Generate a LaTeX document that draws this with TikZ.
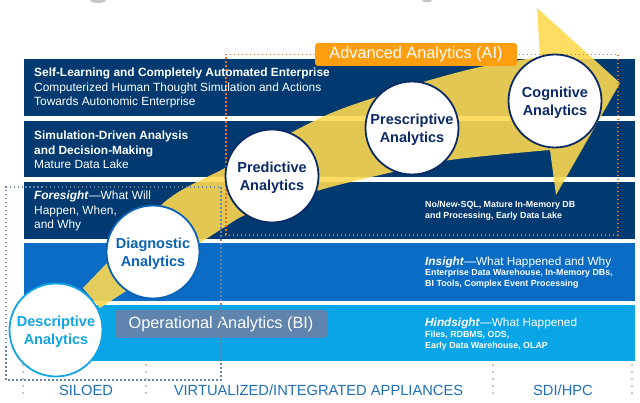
\documentclass[tikz,border=0pt]{standalone}
\usepackage{fontspec}
\usepackage{xcolor}
\setmainfont{Liberation Sans}
\usetikzlibrary{positioning}
\definecolor{navyband}{HTML}{003A70}
\definecolor{midband}{HTML}{0A6CC4}
\definecolor{skyband}{HTML}{0AA5E6}
\definecolor{arrowgold}{HTML}{FFD950}
\definecolor{orangetag}{HTML}{FF9E0F}
\definecolor{slatetag}{HTML}{5F84AE}
\definecolor{navyring}{HTML}{0B2A66}
\definecolor{midring}{HTML}{0B62B4}
\definecolor{skyring}{HTML}{12A5E4}
\definecolor{dotorange}{HTML}{E8701C}
\definecolor{dotslate}{HTML}{6A84A6}
\definecolor{dotgrey}{HTML}{B4B4B4}
\definecolor{footblue}{HTML}{1F70B8}

\begin{document}
\begin{tikzpicture}[
    x=1pt, y=-1pt,
    band/.style={anchor=north west, minimum width=611.5pt, inner sep=0pt, outer sep=0pt},
    stage/.style={circle, fill=white, line width=1.8pt, minimum size=93pt, inner sep=0pt, align=center, text depth=-1pt, font=\fontsize{14.5}{18.3}\selectfont\bfseries},
    tag/.style={rounded corners=3pt, text=white, inner sep=0pt, font=\fontsize{16.3}{18}\selectfont},
    bandtext/.style={anchor=west, align=left, text=white, inner sep=0pt, font=\fontsize{11.9}{14.4}\selectfont},
    smalltext/.style={anchor=west, align=left, text=white, inner sep=0pt, font=\fontsize{8.85}{11}\selectfont\bfseries},
    foot/.style={text=footblue, inner sep=0pt, font=\fontsize{14.7}{16}\selectfont},
    dotline/.style={line width=1.5pt, dash pattern=on 1.5pt off 2.5pt},
    greydots/.style={draw=dotgrey, line cap=round, line width=2.4pt, dash pattern=on 0pt off 7pt}
]
\useasboundingbox (0,0) rectangle (640,403);

% Smudges
\fill[black!22] (98,0) ellipse (8 and 3);
\fill[black!22] (427,0) ellipse (5 and 2.5);

% Bands
\node[band, fill=navyband, minimum height=57pt] (selflearn) at (23.5,59) {};
\node[band, fill=navyband, minimum height=56pt] (simulation) at (23.5,121) {};
\node[band, fill=navyband, minimum height=57pt] (foresight) at (23.5,182) {};
\node[band, fill=midband, minimum height=58pt] (insight) at (23.5,243) {};
\node[band, fill=skyband, minimum height=56pt] (hindsight) at (23.5,305) {};

% Arrow
\fill[arrowgold, opacity=0.89]
    plot[smooth] coordinates {(83,288) (107,263) (167,200) (227,167) (320,118) (373,98) (423,82) (480,67) (540,57)}
    -- (537,8) -- (620,83) -- (556,195) -- (550,150)
    -- plot[smooth] coordinates {(550,150) (450,160) (380,175) (320,190) (250,213) (220,230) (123,293) (100,308)}
    -- cycle;

% Tags
\node[tag, fill=orangetag, minimum width=202pt, minimum height=23pt] (advanced) at (416,54.5) {Advanced Analytics (AI)};
\node[tag, fill=slatetag, minimum width=212pt, minimum height=28pt] (operational) at (221,324) {Operational Analytics (BI)};

% Frames
\draw[dotline, draw=dotorange] (315,54.5) -- (226,54.5) -- (226,235) -- (618,235) -- (618,54.5) -- (517,54.5);
\draw[dotline, draw=dotslate] (23,187) -- (6,187) -- (6,380) -- (221,380) -- (221,187) -- (23,187);

% Dividers
\coordinate (d1a) at (23,365); \coordinate (d1b) at (23,396);
\coordinate (d2a) at (146,365); \coordinate (d2b) at (146,396);
\coordinate (d3a) at (493,365); \coordinate (d3b) at (493,396);
\coordinate (d4a) at (632,365); \coordinate (d4b) at (632,396);
\draw[greydots] (d1a) -- (d1b);
\draw[greydots] (d2a) -- (d2b);
\draw[greydots] (d3a) -- (d3b);
\draw[greydots] (d4a) -- (d4b);

% Circles
\node[stage, draw=navyring, text=navyring] (predictive) at (272,176) {Predictive\\Analytics};
\node[stage, draw=navyring, text=navyring] (prescriptive) at (412,128) {Prescriptive\\Analytics};
\node[stage, draw=navyring, text=navyring] (cognitive) at (555,101) {Cognitive\\Analytics};
\node[stage, draw=midring, text=midring] (diagnostic) at (153,252) {Diagnostic\\Analytics};
\node[stage, draw=skyring, text=skyring] (descriptive) at (56,330) {Descriptive\\Analytics};

% Band labels
\node[bandtext] (selflabel) at (34,88) {\textbf{Self-Learning and Completely Automated Enterprise}\\Computerized Human Thought Simulation and Actions\\Towards Autonomic Enterprise};
\node[bandtext] (simlabel) at (34,150) {\textbf{Simulation-Driven Analysis}\\\textbf{and Decision-Making}\\Mature Data Lake};
\node[bandtext] (forelabel) at (34,211) {\textbf{\textit{Foresight}}---What Will\\Happen, When,\\and Why};
\node[smalltext] (forenote) at (425,210.5) {No/New-SQL, Mature In-Memory DB\\and Processing, Early Data Lake};
\node[bandtext, font=\fontsize{11.8}{14}\selectfont] (insightlabel) at (425,262) {\textbf{\textit{Insight}}---What Happened and Why};
\node[smalltext] (insightnote) at (425,279) {Enterprise Data Warehouse, In-Memory DBs,\\BI Tools, Complex Event Processing};
\node[bandtext, font=\fontsize{11.8}{14}\selectfont] (hindlabel) at (425,323) {\textbf{\textit{Hindsight}}---What Happened};
\node[smalltext] (hindnote) at (425,340.5) {Files, RDBMS, ODS,\\Early Data Warehouse, OLAP};

% Footer
\node[foot] (siloed) at (86,390) {SILOED};
\node[foot] (virtual) at (318.5,390) {VIRTUALIZED/INTEGRATED APPLIANCES};
\node[foot] (sdi) at (563,390) {SDI/HPC};
\end{tikzpicture}
\end{document}
